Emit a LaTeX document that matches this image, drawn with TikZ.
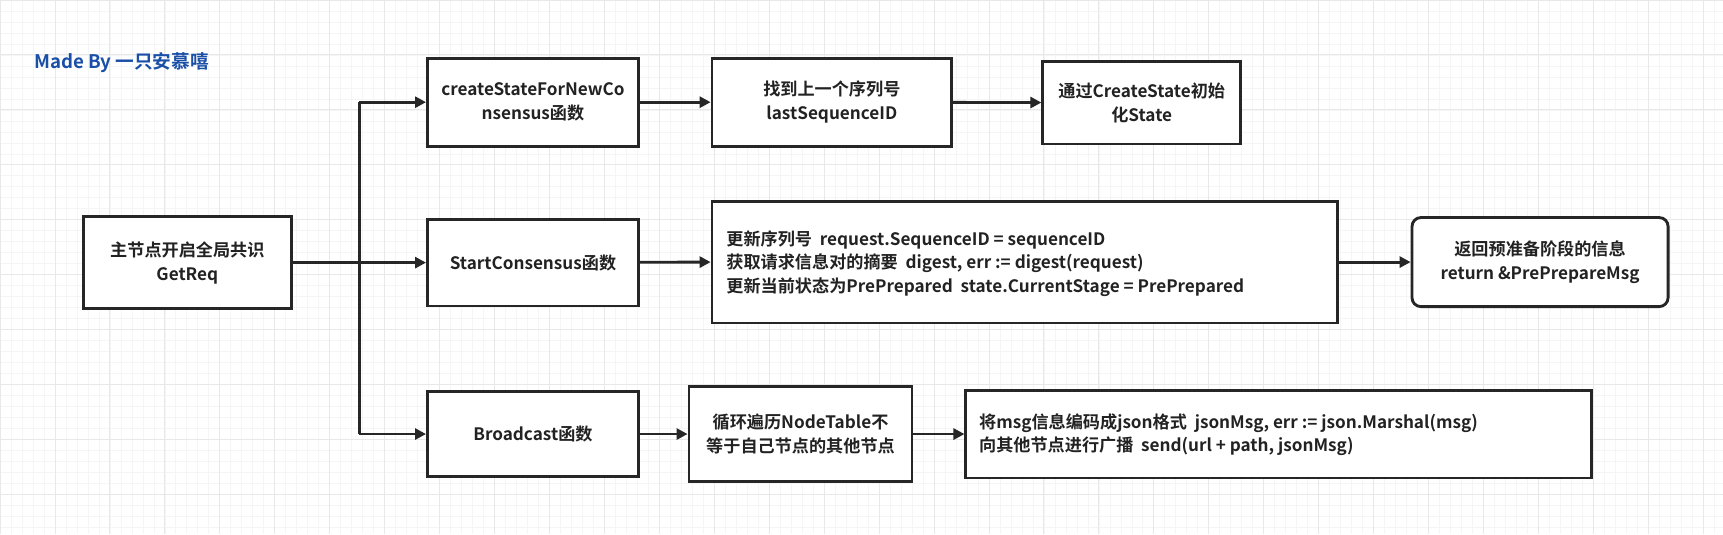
\documentclass[tikz,border=0pt]{standalone}
\usepackage{fontspec}
\setmainfont{Noto Sans CJK SC}[BoldFont={Noto Sans CJK SC Bold}]
\usetikzlibrary{arrows.meta}
\definecolor{txt}{HTML}{222222}
\definecolor{blu}{HTML}{1A4FA8}
\begin{document}
\begin{tikzpicture}[x=0.5pt,y=-0.5pt,
  box/.style={draw=black!85,line width=1.3pt,fill=white,inner sep=0pt,align=center,text=txt,font=\fontsize{7.8}{10.8}\selectfont\bfseries},
  lt/.style={text=txt,font=\fontsize{7.8}{10.5}\selectfont\bfseries,anchor=west,align=left},
  arr/.style={draw=black!85,line width=1.3pt,-{Triangle[length=5pt,width=5pt]}},
  ln/.style={draw=black!85,line width=1.3pt}]
\useasboundingbox (0,0) rectangle (1568,486);
\fill[white] (0,0) rectangle (1568,486);
\foreach \i in {0,10,...,1560} \draw[black!4,line width=0.3pt] (\i,0) -- (\i,486);
\foreach \i in {0,10,...,480} \draw[black!4,line width=0.3pt] (0,\i) -- (1568,\i);
\foreach \i in {0,50,...,1550} \draw[black!9,line width=0.4pt] (\i,0) -- (\i,486);
\foreach \i in {0,50,...,450} \draw[black!9,line width=0.4pt] (0,\i) -- (1568,\i);
\node[text=blu,font=\fontsize{8.5}{10}\selectfont\bfseries,anchor=west] (mb) at (24,57) {Made By 一只安慕嘻};
\node[box,minimum width=94.5pt,minimum height=42pt] (g) at (170.5,239) {主节点开启全局共识\\GetReq};
\node[box,minimum width=96pt,minimum height=40pt] (c) at (485,93) {createStateForNewCo\\nsensus函数};
\node[box,minimum width=109pt,minimum height=40pt] (f) at (757,93) {找到上一个序列号\\lastSequenceID};
\node[box,minimum width=90pt,minimum height=37.5pt] (cs) at (1039,93.5) {通过CreateState初始\\化State};
\node[box,minimum width=96pt,minimum height=39.5pt] (s) at (485,239) {StartConsensus函数};
\node[box,minimum width=284.5pt,minimum height=55.5pt] (big) at (932.5,238.5) {};
\node[lt] (bt) at (654,240) {更新序列号\ \ request.SequenceID = sequenceID\\获取请求信息对的摘要\ \ digest, err := digest(request)\\更新当前状态为PrePrepared\ \ state.CurrentStage = PrePrepared};
\node[box,rounded corners=4pt,minimum width=116.5pt,minimum height=40.5pt] (r) at (1401.5,238.5) {返回预准备阶段的信息\\return \&PrePrepareMsg};
\node[box,minimum width=96pt,minimum height=39pt] (b) at (485,395) {Broadcast函数};
\node[box,minimum width=101.5pt,minimum height=43pt] (l) at (728.5,395) {循环遍历NodeTable不\\等于自己节点的其他节点};
\node[box,minimum width=284.5pt,minimum height=40pt] (j) at (1163.5,395) {};
\node[lt] (jt) at (884,396) {将msg信息编码成json格式\ \ jsonMsg, err := json.Marshal(msg)\\向其他节点进行广播\ \ send(url + path, jsonMsg)};
\coordinate (t1) at (327,93);
\coordinate (t3) at (327,395);
\coordinate (t2) at (327,239);
\draw[ln] (g.east) -- (t2);
\draw[ln] (t1) -- (t3);
\draw[arr] (t1) -- (c.west);
\draw[arr] (t2) -- (s.west);
\draw[arr] (t3) -- (b.west);
\draw[arr] (c) -- (f);
\draw[arr] (f) -- (cs);
\draw[arr] (s) -- (big.west);
\draw[arr] (big) -- (r);
\draw[arr] (b) -- (l);
\draw[arr] (l) -- (j.west);
\end{tikzpicture}
\end{document}
